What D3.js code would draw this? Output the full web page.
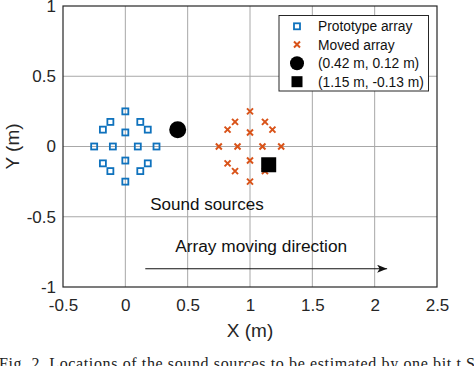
<!DOCTYPE html>
<html>
<head>
<meta charset="utf-8">
<script src="https://cdn.jsdelivr.net/npm/d3@7/dist/d3.min.js"></script>
<style>
  html, body { margin: 0; padding: 0; background: #fff; }
  svg { display: block; font-family: "Liberation Sans", Arial, sans-serif; }
</style>
</head>
<body>
<svg width="474" height="366"></svg>
<script>
// microphone layout (m), relative to array centre
var arrayX = [0, 0, 0, 0, -0.25, -0.1, 0.1, 0.25, -0.12, -0.18, 0.12, 0.18, -0.18, -0.12, 0.12, 0.18];
var arrayY = [0.25, 0.1, -0.1, -0.25, 0, 0, 0, 0, 0.175, 0.12, 0.175, 0.12, -0.12, -0.175, -0.175, -0.12];
var prototypeCentre = [0, 0];
var movedCentre = [1.0, 0];
var sourceCircle = [0.42, 0.12];
var sourceSquare = [1.15, -0.13];
var legendLabels = ['Prototype array', 'Moved array', '(0.42 m, 0.12 m)', '(1.15 m, -0.13 m)'];
var xTicks = [-0.5, 0, 0.5, 1, 1.5, 2, 2.5];
var yTicks = [-1, -0.5, 0, 0.5, 1];
var soundLabel = { text: 'Sound sources', x: 0.2, y: -0.41 };
var moveLabel = { text: 'Array moving direction', x: 0.4, y: -0.71 };
var arrowLine = [[0.16, -0.87], [2.1, -0.87]];
var caption = 'Fig. 2.  Locations of the sound sources to be estimated by one bit t S';

var blue = '#0f72bd';
var orange = '#d95319';
var svg = d3.select('svg');

var x = d3.scaleLinear().domain([-0.5, 2.5]).range([63, 437]);
var y = d3.scaleLinear().domain([-1, 1]).range([287, 6]);

// grid
var grid = svg.append('g');
grid.selectAll('.gx').data(xTicks.slice(1, -1)).enter().append('line')
    .attr('x1', d => x(d)).attr('x2', d => x(d))
    .attr('y1', y(-1)).attr('y2', y(1))
    .attr('stroke', '#a8a8a8').attr('stroke-width', 1);
grid.selectAll('.gy').data(yTicks.slice(1, -1)).enter().append('line')
    .attr('y1', d => y(d)).attr('y2', d => y(d))
    .attr('x1', x(-0.5)).attr('x2', x(2.5))
    .attr('stroke', '#a8a8a8').attr('stroke-width', 1);

// axes (plain hyphen for negatives, like the original)
var fmt = d => String(d);
var xAxis = d3.axisBottom(x).tickValues(xTicks).tickSize(0).tickPadding(12).tickFormat(fmt);
var yAxis = d3.axisLeft(y).tickValues(yTicks).tickSize(0).tickPadding(7).tickFormat(fmt);
svg.append('g').attr('transform', 'translate(0,' + y(-1) + ')').call(xAxis);
svg.append('g').attr('transform', 'translate(' + x(-0.5) + ',0)').call(yAxis);
svg.selectAll('.tick text').attr('font-size', 17).attr('fill', '#262626')
    .attr('font-family', '"Liberation Sans", Arial, sans-serif');
svg.selectAll('.domain').remove();

svg.append('rect')
    .attr('x', x(-0.5)).attr('y', y(1))
    .attr('width', x(2.5) - x(-0.5)).attr('height', y(-1) - y(1))
    .attr('fill', 'none').attr('stroke', '#262626').attr('stroke-width', 1.2);

svg.append('text').attr('x', (x(-0.5) + x(2.5)) / 2).attr('y', 337)
    .attr('text-anchor', 'middle').attr('font-size', 19).attr('fill', '#262626')
    .text('X (m)');
svg.append('text').attr('transform', 'translate(19,' + y(0) + ') rotate(-90)')
    .attr('text-anchor', 'middle').attr('font-size', 19).attr('fill', '#262626')
    .text('Y (m)');

// arrays
var mics = d3.range(arrayX.length);
svg.append('g').selectAll('rect').data(mics).enter().append('rect')
    .attr('x', i => x(prototypeCentre[0] + arrayX[i]) - 3)
    .attr('y', i => y(prototypeCentre[1] + arrayY[i]) - 3)
    .attr('width', 6).attr('height', 6)
    .attr('fill', 'none').attr('stroke', blue).attr('stroke-width', 1.8);

var cross = function (g, cx, cy, r) {
    g.append('path')
        .attr('d', 'M' + (cx - r) + ',' + (cy - r) + 'L' + (cx + r) + ',' + (cy + r) +
            'M' + (cx - r) + ',' + (cy + r) + 'L' + (cx + r) + ',' + (cy - r))
        .attr('stroke', orange).attr('stroke-width', 2).attr('fill', 'none');
};
var moved = svg.append('g');
mics.forEach(i => cross(moved, x(movedCentre[0] + arrayX[i]), y(movedCentre[1] + arrayY[i]), 3));

// sources
svg.append('circle').attr('cx', x(sourceCircle[0])).attr('cy', y(sourceCircle[1]))
    .attr('r', 8.5).attr('fill', '#000');
svg.append('rect').attr('x', x(sourceSquare[0]) - 7.5).attr('y', y(sourceSquare[1]) - 7.5)
    .attr('width', 15).attr('height', 15).attr('fill', '#000');

// annotations
svg.append('text').attr('x', x(soundLabel.x)).attr('y', y(soundLabel.y) + 6)
    .attr('font-size', 17).attr('fill', '#111').text(soundLabel.text);
svg.append('text').attr('x', x(moveLabel.x)).attr('y', y(moveLabel.y) + 6)
    .attr('font-size', 17.3).attr('fill', '#111').text(moveLabel.text);

svg.append('defs').append('marker').attr('id', 'head')
    .attr('viewBox', '0 0 10 8').attr('refX', 10).attr('refY', 4)
    .attr('markerWidth', 10).attr('markerHeight', 8).attr('markerUnits', 'userSpaceOnUse')
    .attr('orient', 'auto')
    .append('path').attr('d', 'M0,0L10,4L0,8L2.5,4Z').attr('fill', '#111');
svg.append('line')
    .attr('x1', x(arrowLine[0][0])).attr('y1', y(arrowLine[0][1]))
    .attr('x2', x(arrowLine[1][0])).attr('y2', y(arrowLine[1][1]))
    .attr('stroke', '#111').attr('stroke-width', 1.2).attr('marker-end', 'url(#head)');

// legend
var lg = svg.append('g');
lg.append('rect').attr('x', 279).attr('y', 15.5).attr('width', 149.5).attr('height', 75.5)
    .attr('fill', '#fff').attr('stroke', '#262626').attr('stroke-width', 1);
var rowY = [26.3, 44.5, 63.3, 81.7];
legendLabels.forEach(function (t, i) {
    lg.append('text').attr('x', 318).attr('y', rowY[i] + 5)
        .attr('font-size', 13.8).attr('fill', '#111').text(t);
});
lg.append('rect').attr('x', 297 - 3).attr('y', rowY[0] - 3).attr('width', 6).attr('height', 6)
    .attr('fill', 'none').attr('stroke', blue).attr('stroke-width', 1.8);
cross(lg, 297, rowY[1], 3);
lg.append('circle').attr('cx', 297).attr('cy', rowY[2]).attr('r', 7).attr('fill', '#000');
lg.append('rect').attr('x', 297 - 5.5).attr('y', rowY[3] - 5.5).attr('width', 11).attr('height', 11).attr('fill', '#000');

// caption (cut by the bottom edge in the original)
svg.append('text').attr('x', -1).attr('y', 369)
    .attr('font-family', '"Liberation Serif", "Times New Roman", serif')
    .attr('font-size', 16).attr('fill', '#222')
    .attr('textLength', 476).attr('lengthAdjust', 'spacing')
    .text(caption);
</script>
</body>
</html>
